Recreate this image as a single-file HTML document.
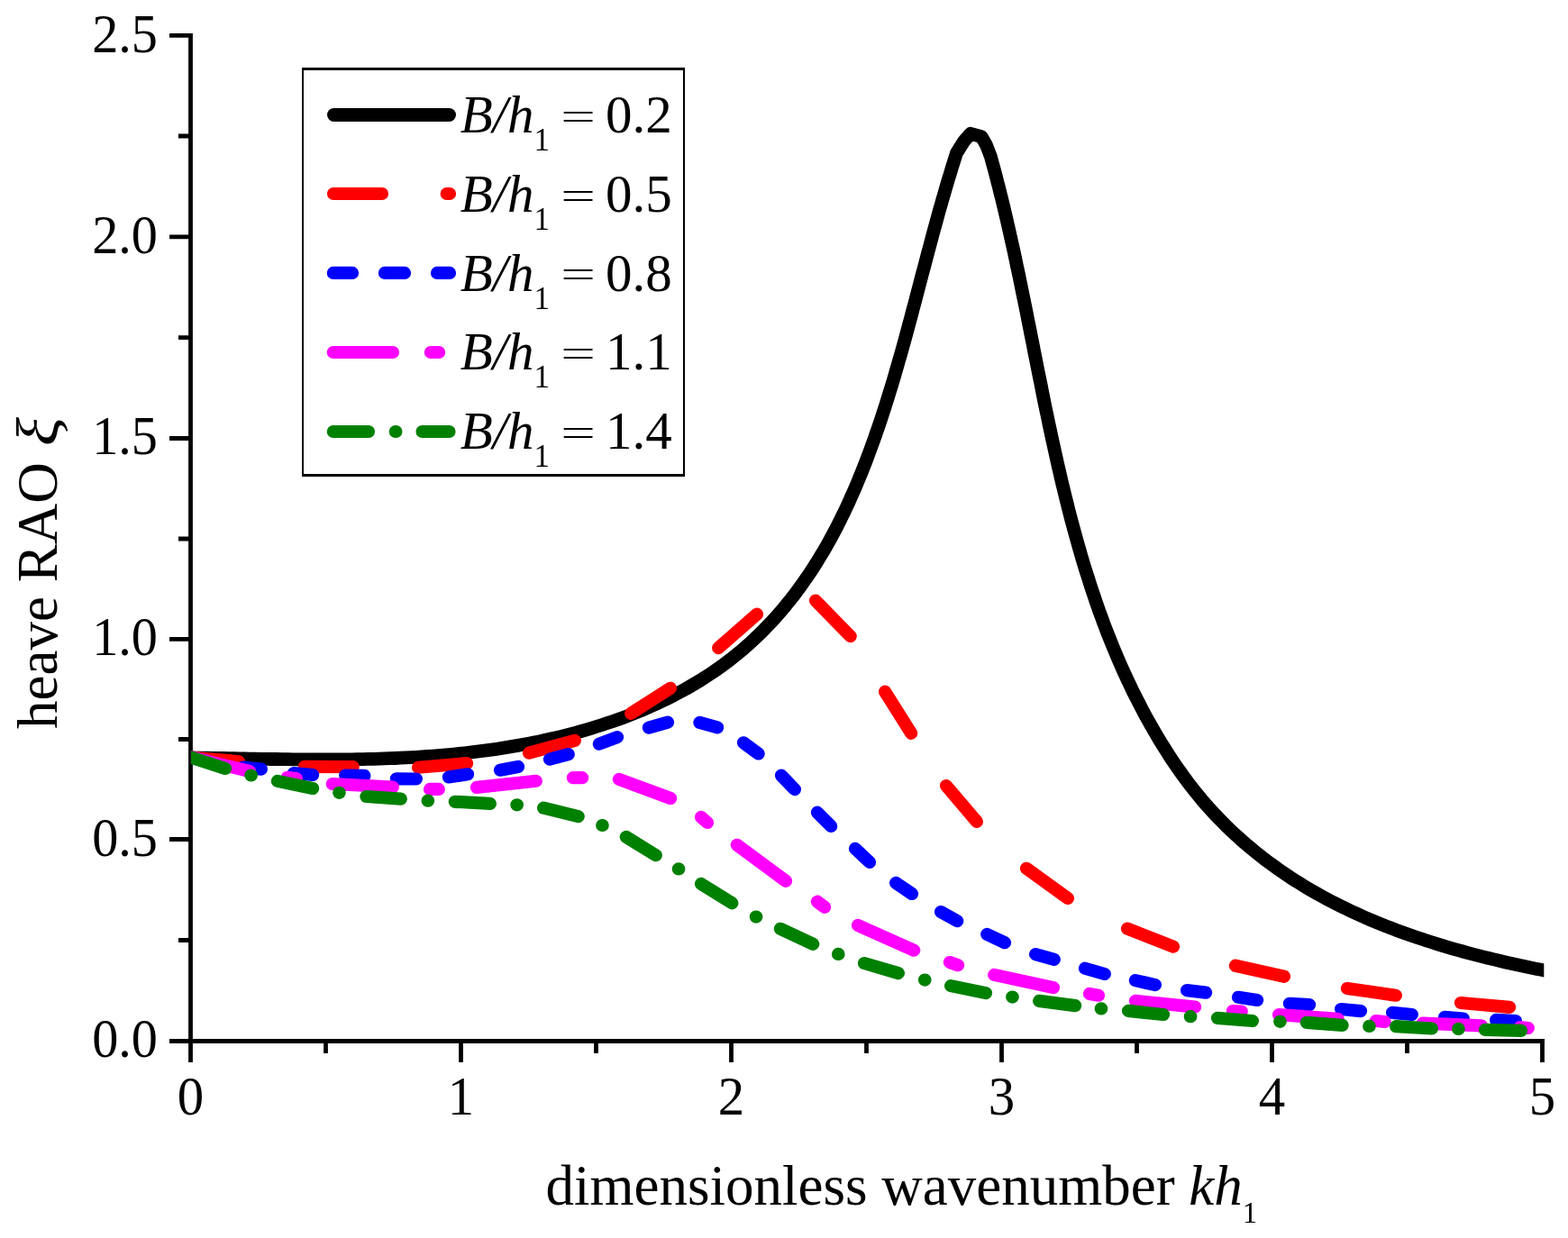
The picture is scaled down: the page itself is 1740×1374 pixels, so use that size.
<!DOCTYPE html>
<html><head><meta charset="utf-8"><title>heave RAO vs dimensionless wavenumber</title>
<style>
html,body{margin:0;padding:0;background:#fff;overflow:hidden;}
svg{display:block;}
text{font-family:"Liberation Serif","DejaVu Serif",serif;fill:#000;}
.it{font-style:italic;}
</style></head>
<body>
<svg width="1740" height="1374" viewBox="0 0 1740 1374">
<defs><clipPath id="plotclip"><rect x="211.9" y="0" width="1501.4" height="1374"/></clipPath></defs>
<rect x="0" y="0" width="1740" height="1374" fill="#fff"/>

<!-- AXES -->
<g id="axes" stroke="#000" stroke-width="4.8" fill="none">
<path d="M211.5 37V1158"/>
<path d="M188 1155.5H1714"/>
<path d="M188 931.5H211.5M188 709.4H211.5M188 486.5H211.5M188 262.8H211.5M188 39.4H211.5"/>
<path d="M198 1043.5H211.5M198 820.5H211.5M198 598H211.5M198 374.7H211.5M198 151H211.5"/>
<path d="M211.5 1155.5V1179M511.5 1155.5V1179M811.5 1155.5V1179M1111.5 1155.5V1179M1411.5 1155.5V1179M1711.5 1155.5V1179"/>
<path d="M361.5 1155.5V1169M661.5 1155.5V1169M961.5 1155.5V1169M1261.5 1155.5V1169M1561.5 1155.5V1169"/>
</g>

<!-- CURVES -->
<g id="curves" fill="none" stroke-linecap="round" stroke-linejoin="round" clip-path="url(#plotclip)">
<path d="M211.5 841L217.4 841.1L223.4 841.2L229.4 841.2L235.4 841.3L241.4 841.4L247.3 841.5L253.3 841.6L259.3 841.7L265.3 841.9L271.3 842L277.2 842.1L283.2 842.2L289.2 842.3L295.2 842.4L301.1 842.5L307.1 842.5L313.1 842.6L319 842.7L325 842.8L331 842.8L337 842.9L342.9 842.9L348.9 843L354.9 843L360.8 843L366.8 843L372.7 842.9L378.7 842.9L384.7 842.8L390.6 842.8L396.6 842.7L402.5 842.6L408.5 842.4L414.4 842.3L420.4 842.1L426.3 841.9L432.3 841.7L438.2 841.5L444.2 841.2L450.1 840.9L456.1 840.6L462 840.3L468 839.9L473.9 839.5L479.9 839.1L485.8 838.6L491.7 838.1L497.7 837.6L503.6 837L509.5 836.4L515.5 835.8L521.4 835.1L527.3 834.4L533.2 833.7L539.2 832.9L545.1 832.1L551 831.3L556.9 830.4L562.8 829.4L568.7 828.4L574.7 827.4L580.6 826.3L586.5 825.2L592.4 824.1L598.3 822.9L604.2 821.6L610 820.3L615.9 819L621.8 817.6L627.6 816.1L633.5 814.6L639.3 813.1L645.1 811.5L650.9 809.8L656.6 808.1L662.4 806.3L668.1 804.5L673.8 802.6L679.5 800.7L685.2 798.7L690.8 796.7L696.4 794.6L702 792.4L707.6 790.2L713.1 787.9L718.6 785.5L724 783.1L729.4 780.7L734.8 778.1L740.2 775.5L745.5 772.9L750.7 770.1L756 767.3L761.2 764.5L766.3 761.5L771.4 758.5L776.5 755.5L781.5 752.3L786.4 749.1L791.3 745.8L796.2 742.5L801 739.1L805.8 735.5L810.5 732L815.1 728.3L819.7 724.6L824.2 720.8L828.7 716.9L833.1 713L837.4 708.9L841.7 704.8L846 700.7L850.1 696.4L854.2 692.1L858.3 687.8L862.3 683.3L866.2 678.9L870.1 674.3L873.8 669.7L877.6 665.1L881.2 660.4L884.8 655.6L888.4 650.8L891.8 645.9L895.2 641L898.6 636.1L901.9 631.1L905.1 626.1L908.2 621L911.3 615.9L914.4 610.8L917.4 605.6L920.3 600.4L923.2 595.1L926 589.8L928.8 584.5L931.5 579.2L934.1 573.8L936.8 568.4L939.3 563L941.9 557.5L944.3 552L946.8 546.5L949.2 541L951.5 535.5L953.8 529.9L956.1 524.4L958.3 518.8L960.5 513.2L962.6 507.6L964.7 502L966.8 496.3L968.8 490.7L970.9 485L972.8 479.4L974.8 473.7L976.7 468.1L978.6 462.4L980.4 456.7L982.3 451L984.1 445.3L985.9 439.6L987.6 433.9L989.4 428.2L991.1 422.5L992.8 416.8L994.4 411.1L996.1 405.4L997.7 399.6L999.4 393.9L1001 388.2L1002.6 382.4L1004.2 376.7L1005.7 371L1007.3 365.2L1008.8 359.5L1010.4 353.7L1011.9 348L1013.4 342.2L1015 336.5L1016.5 330.7L1018 324.9L1019.5 319.2L1021 313.4L1022.5 307.7L1024 301.9L1025.6 296.2L1027.1 290.4L1028.6 284.6L1030.1 278.9L1031.7 273.1L1033.2 267.4L1034.7 261.6L1036.3 255.8L1037.9 250.1L1039.5 244.3L1041 238.6L1042.6 232.8L1044.3 227.1L1045.9 221.3L1047.6 215.6L1049.2 209.9L1050.9 204.1L1052.6 198.4L1054.4 192.7L1056.1 186.9L1057.9 181.2L1059.7 175.5L1061.5 169.8L1070 156.3L1077 148.3L1089 151.6L1094.5 161L1099.5 174.2L1101 179.8L1102.6 185.5L1104.1 191.2L1105.6 196.8L1107 202.5L1108.5 208.2L1109.9 214L1111.4 219.7L1112.8 225.4L1114.2 231.2L1115.5 236.9L1116.9 242.7L1118.2 248.5L1119.5 254.2L1120.8 260L1122.1 265.8L1123.4 271.6L1124.7 277.4L1126 283.3L1127.2 289.1L1128.4 294.9L1129.7 300.8L1130.9 306.6L1132.1 312.4L1133.3 318.3L1134.5 324.2L1135.7 330L1136.9 335.9L1138.1 341.7L1139.3 347.6L1140.4 353.5L1141.6 359.4L1142.8 365.3L1143.9 371.1L1145.1 377L1146.3 382.9L1147.4 388.8L1148.6 394.7L1149.8 400.6L1150.9 406.5L1152.1 412.4L1153.3 418.3L1154.5 424.1L1155.7 430L1156.8 435.9L1158 441.8L1159.2 447.7L1160.4 453.6L1161.7 459.5L1162.9 465.4L1164.1 471.2L1165.4 477.1L1166.6 483L1167.9 488.9L1169.2 494.7L1170.5 500.6L1171.8 506.4L1173.1 512.3L1174.4 518.2L1175.8 524L1177.1 529.8L1178.5 535.7L1179.9 541.5L1181.3 547.3L1182.7 553.1L1184.2 558.9L1185.6 564.7L1187.1 570.5L1188.6 576.3L1190.2 582.1L1191.7 587.9L1193.3 593.6L1194.9 599.4L1196.5 605.1L1198.2 610.8L1199.8 616.6L1201.5 622.3L1203.2 628L1205 633.7L1206.8 639.3L1208.6 645L1210.4 650.7L1212.3 656.3L1214.2 661.9L1216.1 667.6L1218.1 673.2L1220 678.8L1222.1 684.3L1224.1 689.9L1226.2 695.5L1228.3 701L1230.5 706.5L1232.7 712L1234.9 717.5L1237.2 723L1239.5 728.5L1241.8 733.9L1244.2 739.4L1246.6 744.8L1249.1 750.2L1251.6 755.6L1254.2 760.9L1256.7 766.3L1259.4 771.6L1262.1 776.9L1264.8 782.2L1267.5 787.5L1270.3 792.8L1273.2 798L1276.1 803.2L1279.1 808.4L1282.1 813.6L1285.1 818.7L1288.2 823.9L1291.4 829L1294.6 834L1297.8 839.1L1301.1 844.1L1304.5 849.1L1307.9 854L1311.4 858.9L1314.9 863.8L1318.5 868.6L1322.1 873.3L1325.8 878L1329.6 882.7L1333.4 887.3L1337.3 891.8L1341.3 896.3L1345.3 900.7L1349.4 905.1L1353.5 909.4L1357.7 913.7L1361.9 917.9L1366.2 922L1370.6 926.1L1375 930.1L1379.5 934.1L1384 938L1388.6 941.8L1393.2 945.6L1397.8 949.3L1402.5 953L1407.3 956.6L1412.1 960.1L1416.9 963.6L1421.8 967L1426.8 970.4L1431.7 973.7L1436.7 976.9L1441.8 980.1L1446.8 983.2L1452 986.3L1457.1 989.3L1462.3 992.2L1467.5 995.1L1472.7 997.9L1478 1000.7L1483.3 1003.4L1488.7 1006.1L1494 1008.7L1499.4 1011.3L1504.9 1013.8L1510.3 1016.3L1515.8 1018.7L1521.3 1021.1L1526.8 1023.4L1532.3 1025.6L1537.9 1027.9L1543.5 1030L1549.1 1032.2L1554.7 1034.2L1560.3 1036.3L1566 1038.3L1571.7 1040.2L1577.3 1042.1L1583 1044L1588.8 1045.8L1594.5 1047.6L1600.2 1049.4L1606 1051.1L1611.7 1052.8L1617.5 1054.4L1623.3 1056L1629 1057.6L1634.8 1059.1L1640.6 1060.6L1646.4 1062.1L1652.2 1063.5L1658 1064.9L1663.8 1066.3L1669.6 1067.7L1675.4 1069L1681.2 1070.3L1687 1071.5L1692.8 1072.8L1698.6 1074L1704.4 1075.2L1710.2 1076.3L1715.9 1077.5L1721.7 1078.6" stroke="#000" stroke-width="14.8"/>
<path d="M211.5 840.5L265 845.2M337.9 850.8L391.7 851.2M464 851.8L518.1 847.1M587 835.7L637.8 821.9M700.2 791.8L743.9 763.8M797.2 719.1L840 681.7M905 666.6L943.7 706.1M982.1 767.7L1011.1 813.8M1050 872L1083.9 911.9M1139 963.8L1185 996.9M1251 1030.7L1302 1050.6M1370.9 1071.7L1425 1083.8M1494.9 1097L1548.9 1104.7M1621 1113L1675.1 1117.9" stroke="#f00" stroke-width="14.2"/>
<path d="M211.5 840.5L232 845.5M269.5 851.5L289.9 853.6M326 858L347.1 860M383.2 860.5L404.4 860.9M439.9 864.3L461.9 864.5M497.9 862.5L519 859.3M555 854.7L575 850.9M610 842.6L630.7 837.1M664.9 825.7L685 818.1M719.9 807.6L741 801.7M776.4 801.9L796.1 807.3M825 824.3L841.6 836.5M867 860.7L881.9 876.1M906.9 901.7L922.2 917M949 941.9L965 956.9M994.1 979.9L1012 992M1044 1012L1062.2 1022.1M1095.2 1036.9L1115 1046.2M1149.1 1059.1L1169.8 1064.8M1204 1074.7L1225.8 1081M1259.9 1088.1L1281.9 1093.1M1317.1 1099.1L1338.1 1101.6M1374 1106.8L1395.1 1110M1430.9 1113.9L1453.1 1115.2M1488.1 1120L1510 1122.1M1545 1123.9L1566.8 1126M1603.1 1128.8L1623.9 1130.5M1660.1 1131.9L1682 1133" stroke="#00f" stroke-width="14.2"/>
<path d="M211.5 840.5L277 856M318.8 862.9L328.8 864M368.8 870L435.9 873.5M477 875.9L486.8 875.9M529 873.9L594.8 866.8M635.9 863.2L646.1 863.2M686.9 864.9L744.1 886M778 906.9L785 913M817.8 937.8L872 977.8M906.9 1000.7L915.1 1006.8M952 1026.9L1014.2 1054.7M1053.9 1068L1063.1 1071.2M1103.2 1081.9L1169 1096.1M1209 1102.9L1219 1104.7M1259.9 1110.9L1326.1 1117.6M1367.9 1122L1377.8 1122.5M1419.1 1126.1L1484.7 1130.9M1526.9 1133L1536.6 1134M1578.7 1135.7L1644 1138.4M1686.8 1140L1695.8 1141" stroke="#f0f" stroke-width="14.2"/>
<path d="M211.5 840.5L250 852.9M278.4 860.5h0.5M307.9 866.9L347.1 875M376.2 879.8h0.5M406.4 884L444.8 886.7M474.6 888.7h0.5M504.8 889.8L543.9 891.9M573.4 893.3h0.5M603.1 896.7L641.7 906.1M668.2 916h0.5M694.8 928.9L727.8 949.2M752.8 964.4h0.5M778 980.9L812.3 1002.3M838.8 1017.6h0.5M865.9 1030.8L902.2 1047.8M930 1058.9h0.5M959 1069L996.9 1080.1M1026 1087.6h0.5M1055.1 1094.1L1094 1102.1M1123.2 1106.6h0.5M1153.1 1110.9L1193.1 1116.1M1221.7 1119.4h0.5M1252 1121.9L1291 1126M1320.8 1128.2h0.5M1351 1129.8L1389.9 1133M1420.2 1133.8h0.5M1449.9 1134.9L1489.6 1137.8M1519.2 1138.9h0.5M1549.1 1139.2L1588.9 1141.5M1618.2 1141.9h0.5M1648 1142.9L1688 1143.9" stroke="#008000" stroke-width="14.2"/>
</g>

<!-- TICK LABELS -->
<g id="ylabels" font-size="62" text-anchor="end">
<text transform="translate(175 1173) scale(0.94 1)">0.0</text>
<text transform="translate(175 950) scale(0.94 1)">0.5</text>
<text transform="translate(175 727) scale(0.94 1)">1.0</text>
<text transform="translate(175 504) scale(0.94 1)">1.5</text>
<text transform="translate(175 281) scale(0.94 1)">2.0</text>
<text transform="translate(175 57.5) scale(0.94 1)">2.5</text>
</g>
<g id="xlabels" font-size="62" text-anchor="middle">
<text transform="translate(211.5 1236.8) scale(0.95 1)">0</text>
<text transform="translate(511.5 1236.8) scale(0.95 1)">1</text>
<text transform="translate(811.5 1236.8) scale(0.95 1)">2</text>
<text transform="translate(1111.5 1236.8) scale(0.95 1)">3</text>
<text transform="translate(1411.5 1236.8) scale(0.95 1)">4</text>
<text transform="translate(1711.5 1236.8) scale(0.95 1)">5</text>
</g>

<!-- AXIS TITLES -->
<text id="xtitle" x="605.5" y="1337.4" font-size="63">dimensionless wavenumber <tspan class="it">kh</tspan><tspan font-size="33" dy="19.3">1</tspan></text>
<text id="ytitle" transform="translate(63.3,809) rotate(-90)" font-size="63">heave RAO</text>
<text class="it" transform="translate(64.2 494.9) rotate(-90) scale(1.137 1)" font-size="65.6">ξ</text>

<!-- LEGEND -->
<g id="legend-box" fill="#000">
<rect x="335" y="75" width="425" height="3"/>
<rect x="335" y="526" width="425" height="3"/>
<rect x="335" y="75" width="2" height="454"/>
<rect x="758" y="75" width="2" height="454"/>
</g>
<g id="legend-lines" fill="none" stroke-linecap="round" stroke-width="14.2">
<path d="M370.5 127.5H498.5" stroke="#000" stroke-width="15"/>
<path d="M370 215H424M495.7 215H499" stroke="#f00"/>
<path d="M369.8 302.9H391M426.9 302.9H449M485 302.9H499" stroke="#00f"/>
<path d="M369.8 391H436M477.9 391H487.1" stroke="#f0f"/>
<path d="M369.8 479H409M438.8 479H439.4M468.5 479H498.5" stroke="#008000"/>
</g>
<g id="legend-text" font-size="59">
<text x="510.7" y="147.0" class="it">B/h</text>
<text x="592.6" y="167.0" font-size="35">1</text>
<text transform="translate(622.3 142.8) scale(1.16 0.73)">=</text>
<text x="671.9" y="147.0">0.2</text>
<text x="510.7" y="234.8" class="it">B/h</text>
<text x="592.6" y="254.8" font-size="35">1</text>
<text transform="translate(622.3 230.6) scale(1.16 0.73)">=</text>
<text x="671.9" y="234.8">0.5</text>
<text x="510.7" y="322.6" class="it">B/h</text>
<text x="592.6" y="342.6" font-size="35">1</text>
<text transform="translate(622.3 318.4) scale(1.16 0.73)">=</text>
<text x="671.9" y="322.6">0.8</text>
<text x="510.7" y="410.4" class="it">B/h</text>
<text x="592.6" y="430.4" font-size="35">1</text>
<text transform="translate(622.3 406.2) scale(1.16 0.73)">=</text>
<text x="671.9" y="410.4">1.1</text>
<text x="510.7" y="498.2" class="it">B/h</text>
<text x="592.6" y="518.2" font-size="35">1</text>
<text transform="translate(622.3 494.0) scale(1.16 0.73)">=</text>
<text x="671.9" y="498.2">1.4</text>
</g>
</svg>
</body></html>
